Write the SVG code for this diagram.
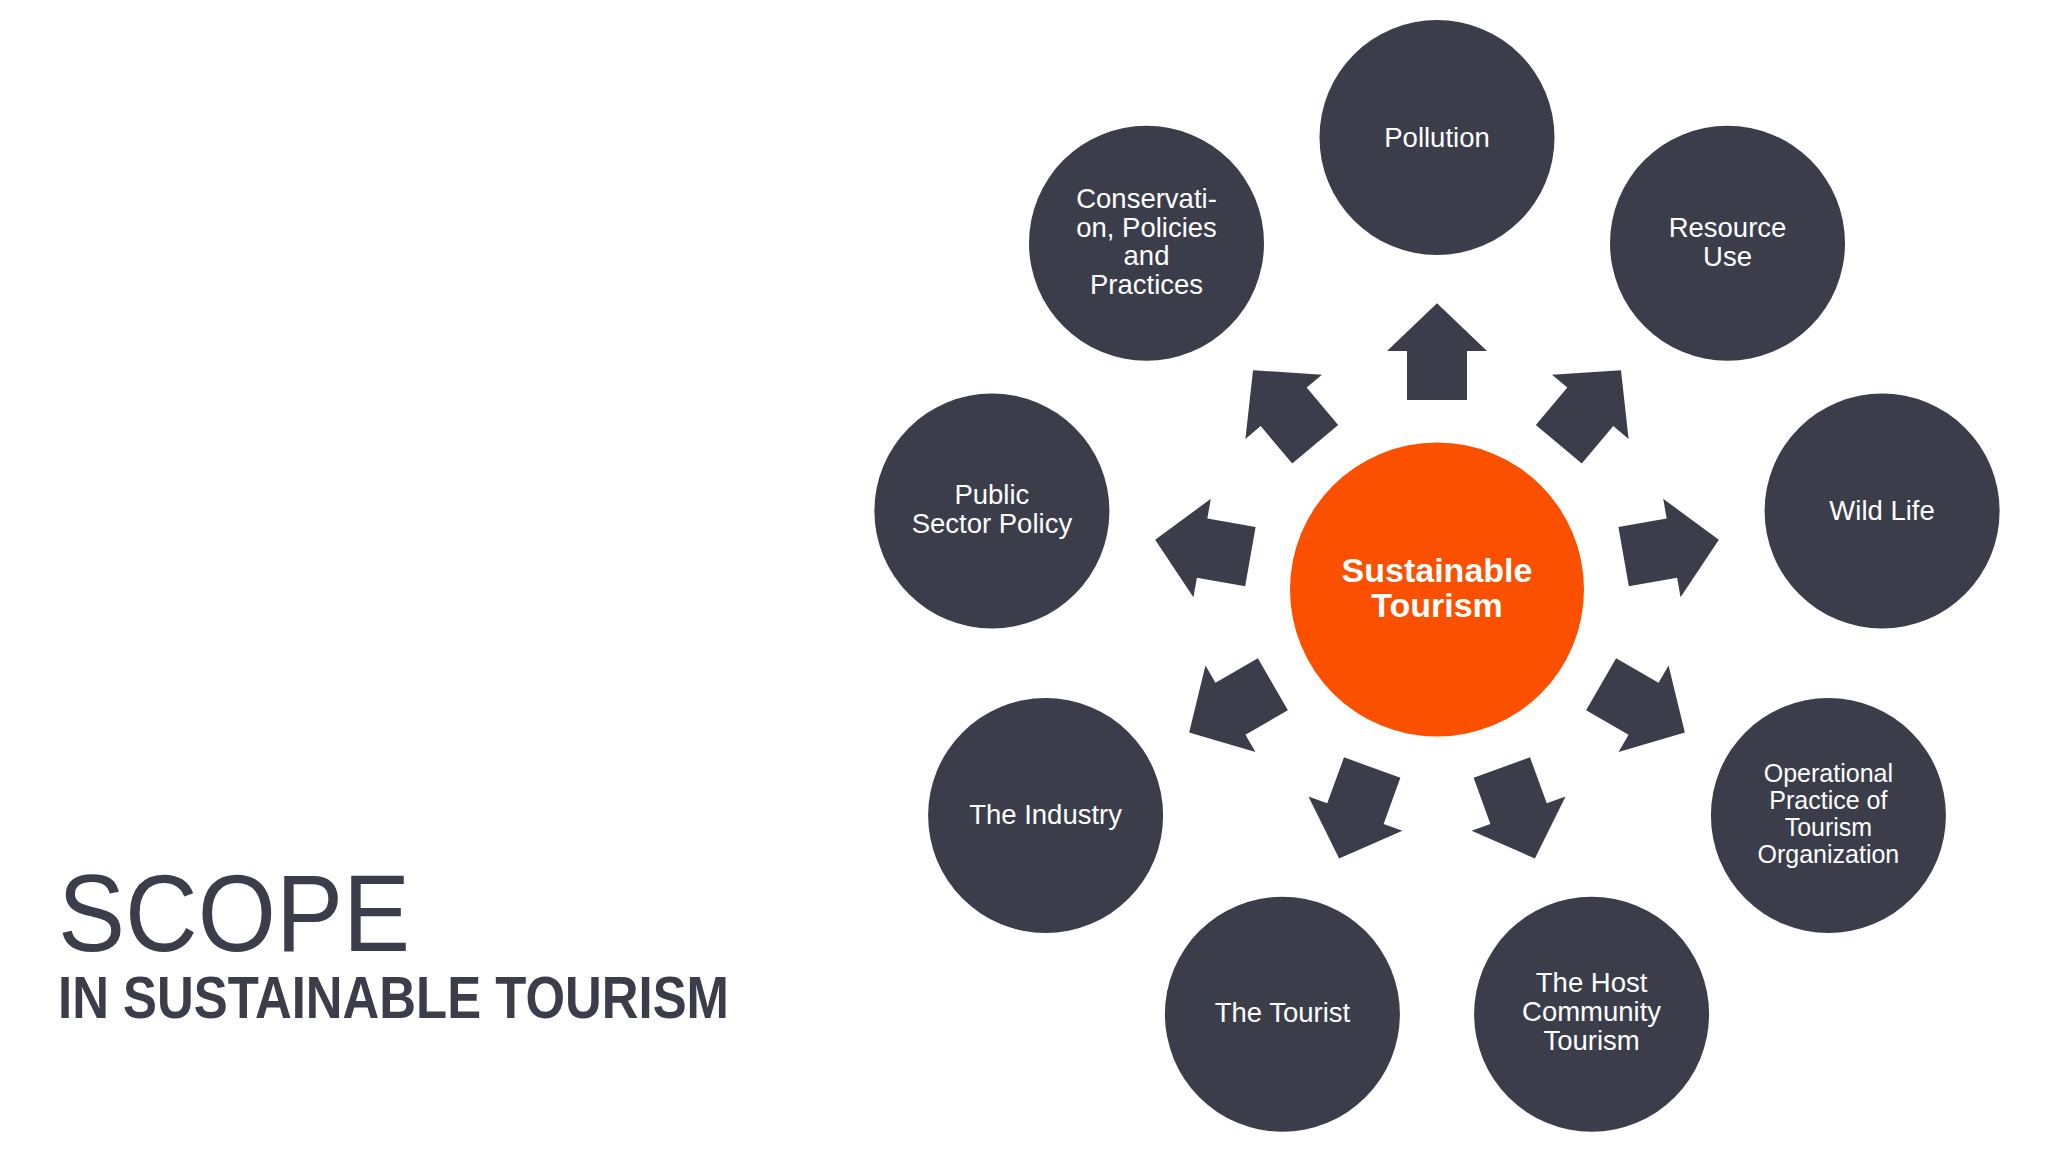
<svg xmlns="http://www.w3.org/2000/svg" xmlns:xlink="http://www.w3.org/1999/xlink" width="2048" height="1152" viewBox="0 0 2048 1152">
  <style>
    .node { fill: #3b3e4a; }
    .hub { fill: #fb5000; }
    .lbl { font-family: "Liberation Sans", Arial, sans-serif; font-size: 27.5px; fill: #ffffff; text-anchor: middle; }
    .lbl-sm { font-size: 25px; }
    .hub-lbl { font-family: "Liberation Sans", Arial, sans-serif; font-size: 34px; font-weight: bold; fill: #ffffff; text-anchor: middle; }
    .arrow { fill: #3b3e4a; }
    .title { font-family: "Liberation Sans", Arial, sans-serif; fill: #3b3e4a; }
  </style>
  <defs>
    <polygon id="arr" class="arrow" points="1407,400 1407,351 1387,351 1437,303.3 1487,351 1467,351 1467,400"/>
  </defs>
  <rect x="0" y="0" width="2048" height="1152" fill="#ffffff"/>

  <g id="title">
    <text class="title" x="58" y="951" font-size="109" textLength="352" lengthAdjust="spacingAndGlyphs">SCOPE</text>
    <text class="title" x="58" y="1017.5" font-size="60" font-weight="bold" textLength="671" lengthAdjust="spacingAndGlyphs">IN SUSTAINABLE TOURISM</text>
  </g>

  <g id="connectors">
    <use xlink:href="#arr" href="#arr"/>
    <use xlink:href="#arr" href="#arr" transform="rotate(40 1437 589.5)"/>
    <use xlink:href="#arr" href="#arr" transform="rotate(80 1437 589.5)"/>
    <use xlink:href="#arr" href="#arr" transform="rotate(120 1437 589.5)"/>
    <use xlink:href="#arr" href="#arr" transform="rotate(160 1437 589.5)"/>
    <use xlink:href="#arr" href="#arr" transform="rotate(200 1437 589.5)"/>
    <use xlink:href="#arr" href="#arr" transform="rotate(240 1437 589.5)"/>
    <use xlink:href="#arr" href="#arr" transform="rotate(280 1437 589.5)"/>
    <use xlink:href="#arr" href="#arr" transform="rotate(320 1437 589.5)"/>
  </g>

  <g id="node-sustainable-tourism">
    <circle class="hub" cx="1437" cy="589.5" r="147"/>
    <text class="hub-lbl" x="1437" y="582.3">Sustainable</text>
    <text class="hub-lbl" x="1437" y="617.3">Tourism</text>
  </g>

  <g id="node-pollution">
    <circle class="node" cx="1437" cy="137.5" r="117.5"/>
    <text class="lbl" x="1437" y="146.5">Pollution</text>
  </g>

  <g id="node-resource-use">
    <circle class="node" cx="1727.5" cy="243.2" r="117.5"/>
    <text class="lbl" x="1727.5" y="237.3">Resource</text>
    <text class="lbl" x="1727.5" y="265.7">Use</text>
  </g>

  <g id="node-wild-life">
    <circle class="node" cx="1882.1" cy="511" r="117.5"/>
    <text class="lbl" x="1882.1" y="519.5">Wild Life</text>
  </g>

  <g id="node-operational-practice">
    <circle class="node" cx="1828.4" cy="815.5" r="117.5"/>
    <text class="lbl lbl-sm" x="1828.4" y="782.3">Operational</text>
    <text class="lbl lbl-sm" x="1828.4" y="809.3">Practice of</text>
    <text class="lbl lbl-sm" x="1828.4" y="836">Tourism</text>
    <text class="lbl lbl-sm" x="1828.4" y="862.7">Organization</text>
  </g>

  <g id="node-host-community">
    <circle class="node" cx="1591.6" cy="1014.2" r="117.5"/>
    <text class="lbl" x="1591.6" y="992.3">The Host</text>
    <text class="lbl" x="1591.6" y="1021.3">Community</text>
    <text class="lbl" x="1591.6" y="1050">Tourism</text>
  </g>

  <g id="node-tourist">
    <circle class="node" cx="1282.4" cy="1014.2" r="117.5"/>
    <text class="lbl" x="1282.4" y="1022.3">The Tourist</text>
  </g>

  <g id="node-industry">
    <circle class="node" cx="1045.6" cy="815.5" r="117.5"/>
    <text class="lbl" x="1045.6" y="824">The Industry</text>
  </g>

  <g id="node-public-sector-policy">
    <circle class="node" cx="991.9" cy="511" r="117.5"/>
    <text class="lbl" x="991.9" y="504.3">Public</text>
    <text class="lbl" x="991.9" y="533.3">Sector Policy</text>
  </g>

  <g id="node-conservation">
    <circle class="node" cx="1146.5" cy="243.2" r="117.5"/>
    <text class="lbl" x="1146.5" y="208.3">Conservati-</text>
    <text class="lbl" x="1146.5" y="236.7">on, Policies</text>
    <text class="lbl" x="1146.5" y="265.3">and</text>
    <text class="lbl" x="1146.5" y="294">Practices</text>
  </g>
</svg>
